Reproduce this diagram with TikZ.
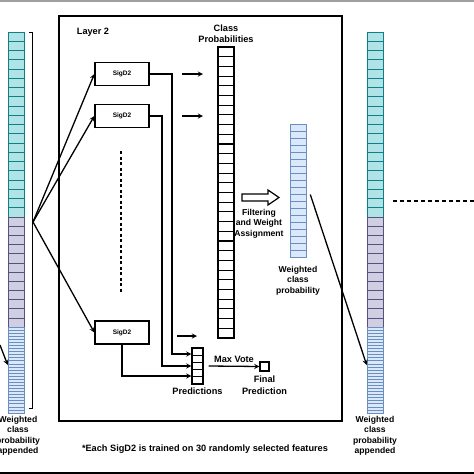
\documentclass[tikz,border=0pt]{standalone}
\usepackage{fontspec}
\setmainfont{Liberation Sans}
\usepackage{xcolor}
\usepackage{tikz}
\usetikzlibrary{shapes,positioning}
\definecolor{cyanfill}{HTML}{B0E3E6}
\definecolor{cyanline}{HTML}{0E8088}
\definecolor{lavfill}{HTML}{D0CEE2}
\definecolor{lavline}{HTML}{56517E}
\definecolor{bluefill}{HTML}{DAE8FC}
\definecolor{blueline}{HTML}{6C8EBF}
\tikzset{sig/.style={rectangle,draw,line width=1.3pt,minimum width=54pt,minimum height=23pt,inner sep=0pt,font=\bfseries\fontsize{6.5}{7}\selectfont}}
\tikzset{lbl/.style={align=center,inner sep=0pt,font=\bfseries\fontsize{8.6}{10.5}\selectfont}}
\tikzset{big/.style={align=center,inner sep=0pt,font=\bfseries\fontsize{9.2}{11.5}\selectfont}}
\tikzset{bar/.style={rectangle,inner sep=0pt,minimum width=16pt,line width=0.6pt}}

\begin{document}
\begin{tikzpicture}[>=stealth,x=1pt,y=-1pt,line width=1.3pt]
    \useasboundingbox (0,0) rectangle (474,474);
    \fill[gray!75] (0,0) rectangle (474,2);
    \fill[black] (0,472) rectangle (474,474);

    % input columns
    \node[bar,fill=cyanfill,draw=cyanline,minimum height=185pt] (lcyan) at (16,124.5) {};
    \node[bar,fill=lavfill,draw=lavline,minimum height=110pt] (llav) at (16,272) {};
    \node[bar,fill=bluefill,draw=blueline,minimum height=86pt] (lblue) at (16,370) {};
    \node[bar,fill=cyanfill,draw=cyanline,minimum height=185pt] (rcyan) at (375,124.5) {};
    \node[bar,fill=lavfill,draw=lavline,minimum height=110pt] (rlav) at (375,272) {};
    \node[bar,fill=bluefill,draw=blueline,minimum height=86pt] (rblue) at (375,370) {};
    \foreach \xx in {8,367} {
        \foreach \i in {1,...,19} \draw[cyanline,line width=0.6pt] (\xx,{32+\i*9.25}) -- ++(16,0);
        \foreach \i in {1,...,11} \draw[lavline,line width=0.6pt] (\xx,{217+\i*9.17}) -- ++(16,0);
        \foreach \i in {1,...,27} \draw[blueline,line width=0.6pt] (\xx,{327+\i*3.07}) -- ++(16,0);
    }
    \node[lbl,below=2pt of lblue,xshift=2pt] (llab) {Weighted\\class\\probability\\appended};
    \node[lbl,below=2pt of rblue] (rlab) {Weighted\\class\\probability\\appended};
    \draw[line width=1pt] (29,32) -- (32,32) -- (32,408) -- (29,408);
    \coordinate (fan) at (33,222);
    \coordinate (inl) at (0,345);
    \draw[->] (inl) -- ([yshift=5pt]lblue.west);

    % layer 2
    \draw (59,16) rectangle (342,421);
    \node[big] (layer) at (93,32) {Layer 2};
    \node[sig] (s1) at (122,74) {SigD2};
    \node[sig] (s2) at (122,116) {SigD2};
    \node[sig] (s3) at (122,332.5) {SigD2};
    \draw[dash pattern=on 3pt off 2.5pt] (121,151) -- (121,293);
    \draw[->] (fan) -- (s1.west);
    \draw[->] (fan) -- (s2.west);
    \draw[->] (fan) -- (s3.west);

    \node[bar,draw,line width=1.2pt,minimum height=291pt] (cp) at (226,192.5) {};
    \foreach \i in {1,...,29} \draw[line width=1.1pt] (218,{47+\i*9.7}) -- ++(16,0);
    \node[big,above=3pt of cp] (cplab) {Class\\Probabilities};
    \draw[->] (182,74) -- ++(21,0);
    \draw[->] (182,116) -- ++(21,0);
    \draw[->] (177,336) -- ++(20,0);

    \node[bar,draw,line width=1.2pt,minimum width=11pt,minimum height=36pt] (pred) at (197.5,366) {};
    \foreach \i in {1,...,4} \draw[line width=1.1pt] (192,{348+\i*7.2}) -- ++(11,0);
    \node[big,below=2.5pt of pred] (predlab) {Predictions};
    \draw[->] (s1.east) -- (172,74) |- ([yshift=12pt]pred.west);
    \draw[->] (s2.east) -- (162,116) |- (pred.west);
    \draw[->] (s3.south) |- ([yshift=-10pt]pred.west);

    \node[rectangle,draw,line width=1.2pt,minimum size=9pt,inner sep=0pt] (final) at (264.5,366.5) {};
    \draw[->] ([xshift=5pt]pred.east) -- node[big,above=3pt] (vote) {Max Vote} (final.west);
    \node[big,below=4pt of final] (finlab) {Final\\Prediction};

    % filtering
    \draw[line width=1.2pt] (242,194) -- (268,194) -- (268,190) -- (279,197.5) -- (268,205) -- (268,201) -- (242,201) -- cycle;
    \node[lbl] (filt) at (259,223.5) {Filtering\\and Weight\\Assignment};
    \node[bar,fill=bluefill,draw=blueline,minimum height=133pt] (wcp) at (298,190.5) {};
    \foreach \i in {1,...,18} \draw[blueline,line width=0.6pt] (290,{124+\i*7}) -- ++(16,0);
    \node[lbl,below=8pt of wcp] (wlab) {Weighted\\class\\probability};
    \draw[->] ([xshift=4pt,yshift=-4pt]wcp.east) -- ([yshift=5pt]rblue.west);

    \draw[dash pattern=on 4pt off 3pt] (393,201) -- (474,201);
    \node[big] (note) at (205,449) {*Each SigD2 is trained on 30 randomly selected features};
\end{tikzpicture}
\end{document}
